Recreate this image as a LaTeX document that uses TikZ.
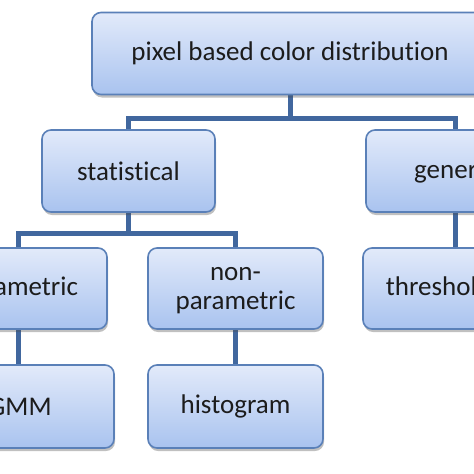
\documentclass[tikz,border=0pt]{standalone}
\usepackage{fontspec}
\setmainfont{Carlito}[Ligatures=NoCommon]
\usetikzlibrary{positioning,shadows,backgrounds}
\definecolor{boxline}{HTML}{5A80B8}
\definecolor{boxtop}{HTML}{E2EAFA}
\definecolor{boxbot}{HTML}{A9C3EF}
\definecolor{wire}{HTML}{41679E}
\definecolor{txt}{HTML}{1C1C1C}
\tikzset{box/.style={draw=boxline,line width=1.6pt,rounded corners=9pt,top color=boxtop,bottom color=boxbot,align=center,text=txt,font=\fontsize{27}{28}\selectfont,minimum height=82pt,drop shadow={shadow xshift=1pt,shadow yshift=-3pt,opacity=0.35,fill=black!70}},conn/.style={wire,line width=5pt}}

\begin{document}
\begin{tikzpicture}[x=1pt,y=-1pt]
\useasboundingbox (0,0) rectangle (474,474);
\clip (0,0) rectangle (474,474);
\node[box,minimum width=396pt] (root) at (290,53.5) {pixel based color distribution};
\node[box,minimum width=173pt] (stat) at (128.5,171) {statistical};
\node[box,minimum width=178pt] (gen) at (455,171) {general};
\node[box,minimum width=178pt,minimum height=81pt] (par) at (18,288.5) {parametric};
\node[box,minimum width=175pt,minimum height=81pt,text depth=0pt,font=\fontsize{27}{29}\selectfont] (npar) at (235.5,288.5) {non-\\parametric};
\node[box,minimum width=184pt,minimum height=81pt] (thr) at (455,288.5) {thresholding};
\node[box,minimum width=188pt,minimum height=83pt] (gmm) at (20,406.5) {GMM};
\node[box,minimum width=175pt,minimum height=83pt] (hist) at (235.5,406.5) {histogram};
\coordinate (j1) at (290,118);
\coordinate (j2) at (128.5,233);
\begin{scope}[on background layer]
\fill[white] (0,0) rectangle (474,474);
\draw[conn] (root.south) -- (j1) -| (stat.north);
\draw[conn] (j1) -| (gen.north);
\draw[conn] (stat.south) -- (j2) -| (par.north);
\draw[conn] (j2) -| (npar.north);
\draw[conn] (par.south) -- (par.south |- gmm.north);
\draw[conn] (npar.south) -- (hist.north);
\draw[conn] (gen.south) -- (thr.north);
\end{scope}
\end{tikzpicture}
\end{document}
